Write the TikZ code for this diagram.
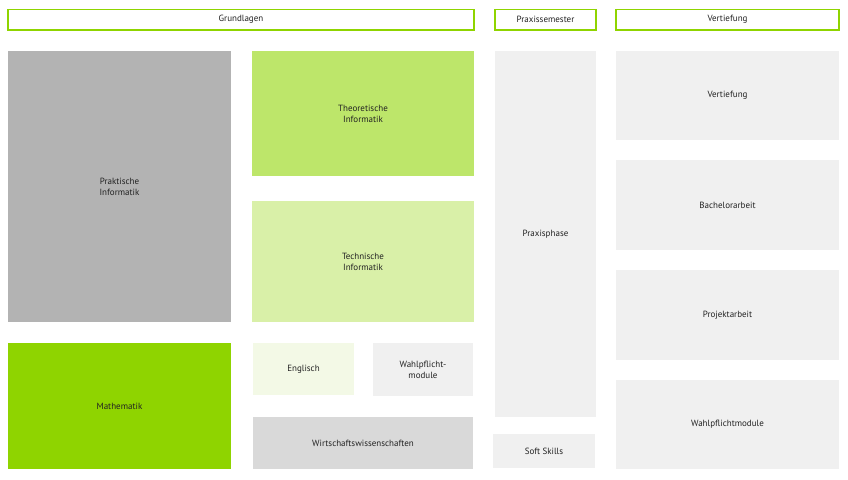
\documentclass[tikz,border=0pt]{standalone}
\usepackage{fontspec}
\setmainfont{PT Sans}
\definecolor{grn}{HTML}{8FD400}
\definecolor{grnb}{HTML}{BDE66A}
\definecolor{grnc}{HTML}{D9F0A8}
\definecolor{grnd}{HTML}{F3F9E6}
\definecolor{lg}{HTML}{F0F0F0}
\definecolor{mg}{HTML}{D9D9D9}
\definecolor{dg}{HTML}{B3B3B3}
\definecolor{txt}{HTML}{222222}
\begin{document}
\begin{tikzpicture}[x=1pt,y=-1pt,
  box/.style={inner sep=0pt,align=center,text=txt,font=\fontsize{9}{11}\selectfont},
  hdr/.style={box,draw=grn,line width=1.2pt,fill=white}]
\useasboundingbox (0,0) rectangle (848,479);
\newcommand\bx[6]{\fill[#5] (#1,#2) rectangle (#3,#4); \node[box] (#6) at ({(#1+#3)/2},{(#2+#4)/2}) {};}
\newcommand\blk[7]{\fill[#5] (#1,#2) rectangle (#3,#4); \node[box] (#6) at ({(#1+#3)/2},{(#2+#4)/2}) {#7};}
\foreach \a/\b/\c/\t/\n in {8/474/241/Grundlagen/h1,495/596/545.5/Praxissemester/h2,616/839/727.5/Vertiefung/h3}{
  \draw[grn,line width=1.2pt,fill=white] (\a,9.5) rectangle (\b,30);
  \node[box] (\n) at (\c,19.5) {\t};}
\blk{8}{51}{231}{322}{dg}{pi}{Praktische\\Informatik}
\blk{252}{51}{474}{176}{grnb}{ti}{Theoretische\\Informatik}
\blk{252}{201}{474}{322}{grnc}{tei}{Technische\\Informatik}
\blk{8}{343}{231}{469}{grn}{ma}{Mathematik}
\blk{253}{343}{354}{395}{grnd}{en}{Englisch}
\blk{373}{343}{473}{396}{lg}{wp}{Wahlpflicht-\\module}
\blk{253}{417}{473}{469}{mg}{ww}{Wirtschaftswissenschaften}
\blk{495}{51}{596}{417}{lg}{pp}{Praxisphase}
\blk{493}{434}{595}{468}{lg}{ss}{Soft Skills}
\blk{616}{51}{839}{140}{lg}{ve}{Vertiefung}
\blk{616}{160}{839}{250}{lg}{ba}{Bachelorarbeit}
\blk{616}{270}{839}{360}{lg}{pa}{Projektarbeit}
\blk{616}{380}{839}{469}{lg}{wm}{Wahlpflichtmodule}
\end{tikzpicture}
\end{document}
